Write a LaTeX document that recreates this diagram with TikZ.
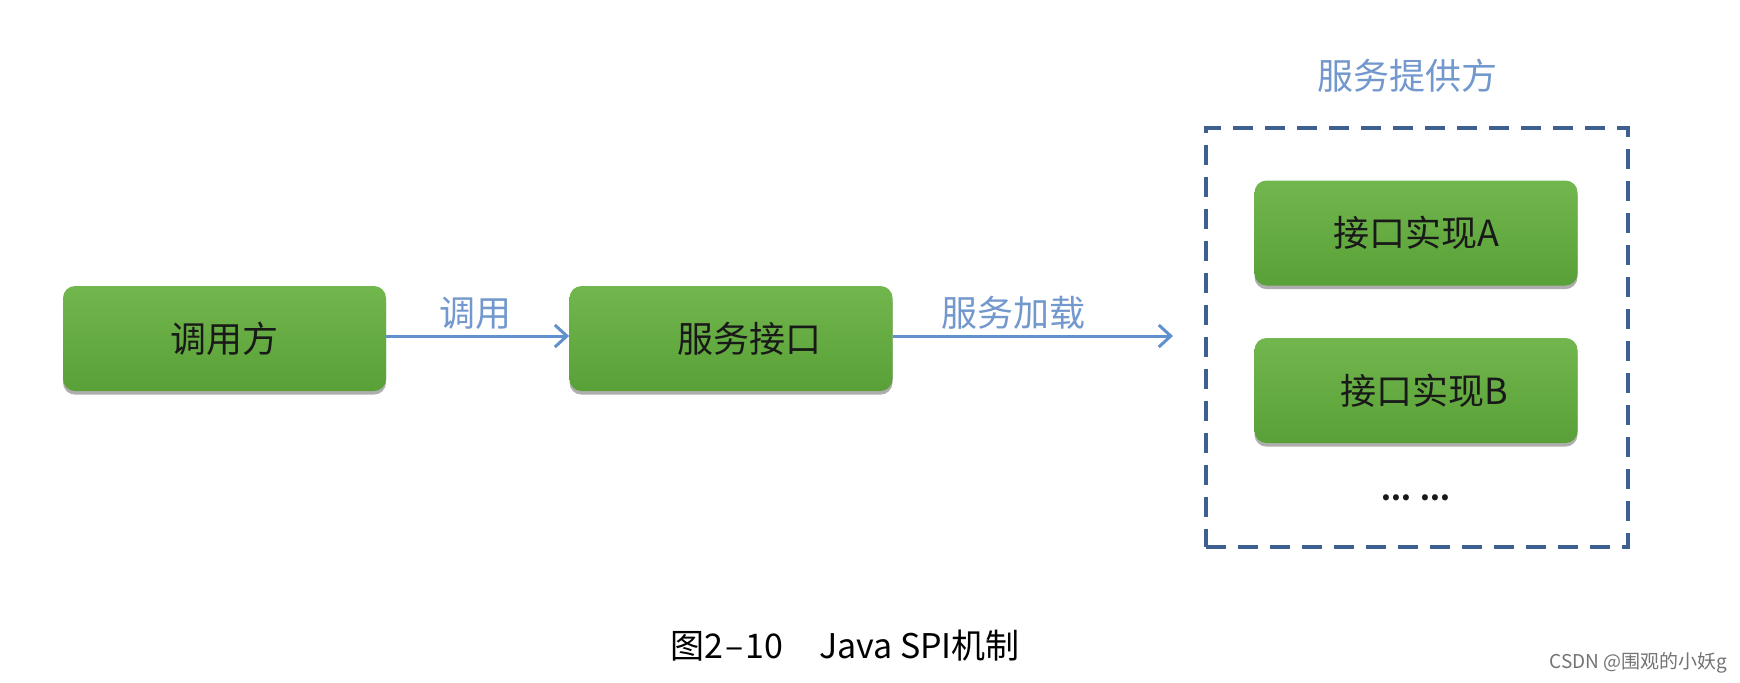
\documentclass[tikz,border=0pt]{standalone}
\usepackage{fontspec}
\setmainfont{Noto Sans CJK SC}
\usetikzlibrary{arrows.meta,shadows,positioning}
\definecolor{gtop}{RGB}{114,183,78}
\definecolor{gbot}{RGB}{88,160,55}
\definecolor{arrowblue}{RGB}{96,145,205}
\definecolor{labelblue}{RGB}{115,152,205}
\definecolor{dashblue}{RGB}{62,96,145}
\definecolor{txt}{RGB}{25,25,25}
\tikzset{
  gbox/.style={rectangle, rounded corners=6pt, top color=gtop, bottom color=gbot,
    draw=none, minimum width=161.5pt, minimum height=52.5pt, inner sep=0pt,
    drop shadow={opacity=0.45, shadow xshift=0pt, shadow yshift=-1.8pt, fill=black!70},
    font=\fontsize{18pt}{20pt}\selectfont, text=txt},
  flow/.style={draw=arrowblue, line width=1.5pt, -{Straight Barb[length=6pt,width=11pt,line width=1.5pt]}},
  lbl/.style={text=labelblue, font=\fontsize{18pt}{20pt}\selectfont, inner sep=0pt},
}
\begin{document}
\begin{tikzpicture}[x=0.5pt,y=-0.5pt]
\useasboundingbox (0,0) rectangle (1740,682);
\fill[white] (0,0) rectangle (1740,682);
% main boxes
\node[gbox] (caller) at (224.5,338.5) {调用方};
\node[gbox] (iface) at (731,338.5) {\hspace{18pt}服务接口};
% provider
\node[draw=dashblue, line width=2pt, dash pattern=on 10pt off 6pt, minimum width=211pt, minimum height=209.5pt, inner sep=0pt] (prov) at (1417,337.5) {};
\node[lbl] (provlbl) at (1407,76) {服务提供方};
\node[gbox] (implA) at (1416,233) {接口实现A};
\node[gbox] (implB) at (1416,390.5) {\hspace{8pt}接口实现B};
\node[font=\fontsize{14pt}{16pt}\selectfont\bfseries, text=txt, inner sep=0pt] (dots) at (1416,498) {\textbf{...\,\,...}};
% connectors
\coordinate (end2) at (1173,336);
\draw[flow] (caller.east |- 0,336) -- (iface.west |- 0,336);
\draw[flow] (iface.east |- 0,336) -- (end2);
\node[lbl] (l1) at (475,313) {调用};
\node[lbl] (l2) at (1013,313) {服务加载};
% caption
\node[font=\fontsize{17pt}{19pt}\selectfont, text=black, inner sep=0pt] (cap) at (845,646) {图2\hspace{1pt}–\hspace{1pt}10\hspace{18pt}Java SPI机制};
\node[font=\fontsize{9.5pt}{11pt}\selectfont, text=black!55, anchor=east, inner sep=0pt] (wm) at (1728,663) {CSDN @围观的小妖g};
\end{tikzpicture}
\end{document}
